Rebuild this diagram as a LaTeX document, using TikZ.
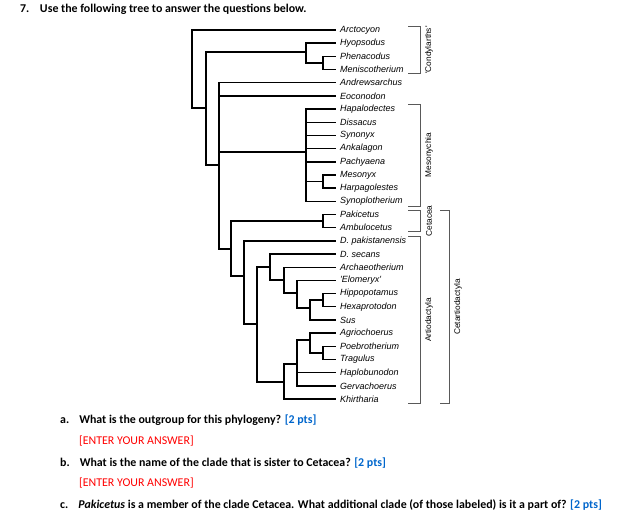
\documentclass[tikz,border=0pt]{standalone}
\usepackage{fontspec}
\setmainfont{Carlito}
\newfontfamily\taxf{Liberation Sans}
\begin{document}
\begin{tikzpicture}[x=1pt,y=-1pt,
  tip/.style={anchor=west,inner xsep=4pt,inner ysep=0pt,font=\taxf\itshape\fontsize{9}{10}\selectfont},
  br/.style={line width=1.4pt},
  brk/.style={line width=0.6pt,gray!70!black},
  clade/.style={rotate=90,font=\taxf\fontsize{8.3}{9}\selectfont,inner sep=0pt},
  q/.style={anchor=west,font=\bfseries\fontsize{11.9}{13}\selectfont,inner sep=0pt},
  ans/.style={anchor=west,text=red,font=\fontsize{11.9}{13}\selectfont,inner sep=0pt}]
\useasboundingbox (0,0) rectangle (634,520);
\node[q] (title) at (20,9) {7.\hspace{7pt} Use the following tree to answer the questions below.};
% tips
\foreach \n/\t [count=\i from 0] in {t0/Arctocyon,t1/Hyopsodus,t2/Phenacodus,t3/Meniscotherium,t4/Andrewsarchus,t5/Eoconodon,t6/Hapalodectes,t7/Dissacus,t8/Synonyx,t9/Ankalagon,t10/Pachyaena,t11/Mesonyx,t12/Harpagolestes,t13/Synoplotherium,t14/Pakicetus,t15/Ambulocetus,t16/D. pakistanensis,t17/D. secans,t18/Archaeotherium,t19/'Elomeryx',t20/Hippopotamus,t21/Hexaprotodon,t22/Sus,t23/Agriochoerus,t24/Poebrotherium,t25/Tragulus,t26/Haplobunodon,t27/Gervachoerus,t28/Khirtharia}
  \node[tip] (\n) at (336,{30+13.18*\i}) {\t};
% internal nodes
\coordinate (root) at (192,69);
\coordinate (n1) at (206,108);
\coordinate (c1) at (306,52);
\coordinate (c2) at (323,63);
\coordinate (n2) at (219,165);
\coordinate (m1) at (306,152);
\coordinate (m2) at (323,181.6);
\coordinate (n3) at (231,249);
\coordinate (ce) at (323,221);
\coordinate (n4) at (244,276);
\coordinate (n5) at (257,324);
\coordinate (n6) at (270,267);
\coordinate (n7) at (284,280);
\coordinate (n8) at (297,293);
\coordinate (n9) at (310,308);
\coordinate (n10) at (323,300);
\coordinate (n11) at (284,382);
\coordinate (n12) at (297,364);
\coordinate (n13) at (310,340);
\coordinate (n14) at (323,353);
\begin{scope}[br]
\draw (root) |- (t0.west); \draw (root) |- (n1);
\draw (n1) |- (c1); \draw (n1) |- (n2);
\draw (c1) |- (t1.west); \draw (c1) |- (c2);
\draw (c2) |- (t2.west); \draw (c2) |- (t3.west);
\draw (n2) |- (t4.west); \draw (n2) |- (t5.west); \draw (n2) |- (m1); \draw (n2) |- (n3);
\draw (m1) |- (t6.west); \draw (m1) |- (t7.west); \draw (m1) |- (t8.west); \draw (m1) |- (t9.west);
\draw (m1) |- (t10.west); \draw (m1) |- (m2); \draw (m1) |- (t13.west);
\draw (m2) |- (t11.west); \draw (m2) |- (t12.west);
\draw (n3) |- (ce); \draw (n3) |- (n4);
\draw (ce) |- (t14.west); \draw (ce) |- (t15.west);
\draw (n4) |- (t16.west); \draw (n4) |- (n5);
\draw (n5) |- (n6); \draw (n5) |- (n11);
\draw (n6) |- (t17.west); \draw (n6) |- (n7);
\draw (n7) |- (t18.west); \draw (n7) |- (n8);
\draw (n8) |- (t19.west); \draw (n8) |- (n9);
\draw (n9) |- (n10); \draw (n9) |- (t22.west);
\draw (n10) |- (t20.west); \draw (n10) |- (t21.west);
\draw (n11) |- (n12); \draw (n11) |- (t28.west);
\draw (n12) |- (n13); \draw (n12) |- (t26.west); \draw (n12) |- (t27.west);
\draw (n13) |- (t23.west); \draw (n13) |- (n14);
\draw (n14) |- (t24.west); \draw (n14) |- (t25.west);
\end{scope}
% brackets
\draw[brk] (408,26) -- (420,26) -- (420,73) -- (408,73);
\node[clade] (lc) at (429,50) {'Condylarths'};
\draw[brk] (408,104) -- (420,104) -- (420,206) -- (408,206);
\node[clade] (lm) at (429,155) {Mesonychia};
\draw[brk] (408,210) -- (420,210) -- (420,231) -- (408,231);
\node[clade] (lce) at (429,221) {Cetacea};
\draw[brk] (408,236) -- (420,236) -- (420,403) -- (408,403);
\node[clade] (la) at (429,320) {Artiodactyla};
\draw[brk] (440,210) -- (449,210) -- (449,403) -- (440,403);
\node[clade] (lca) at (458,307) {Cetartiodactyla};
% questions
\node[q] (qa) at (60,420) {a.\hspace{10pt}What is the outgroup for this phylogeny? \textcolor{blue!50!cyan!80!black}{[2 pts]}};
\node[ans] (aa) at (79,441) {[ENTER YOUR ANSWER]};
\node[q] (qb) at (60,463) {b.\hspace{10pt}What is the name of the clade that is sister to Cetacea? \textcolor{blue!50!cyan!80!black}{[2 pts]}};
\node[ans] (ab) at (79,483) {[ENTER YOUR ANSWER]};
\node[q] (qc) at (60,505) {c.\hspace{10pt}\textit{Pakicetus} is a member of the clade Cetacea. What additional clade (of those labeled) is it a part of? \textcolor{blue!50!cyan!80!black}{[2 pts]}};
\end{tikzpicture}
\end{document}
